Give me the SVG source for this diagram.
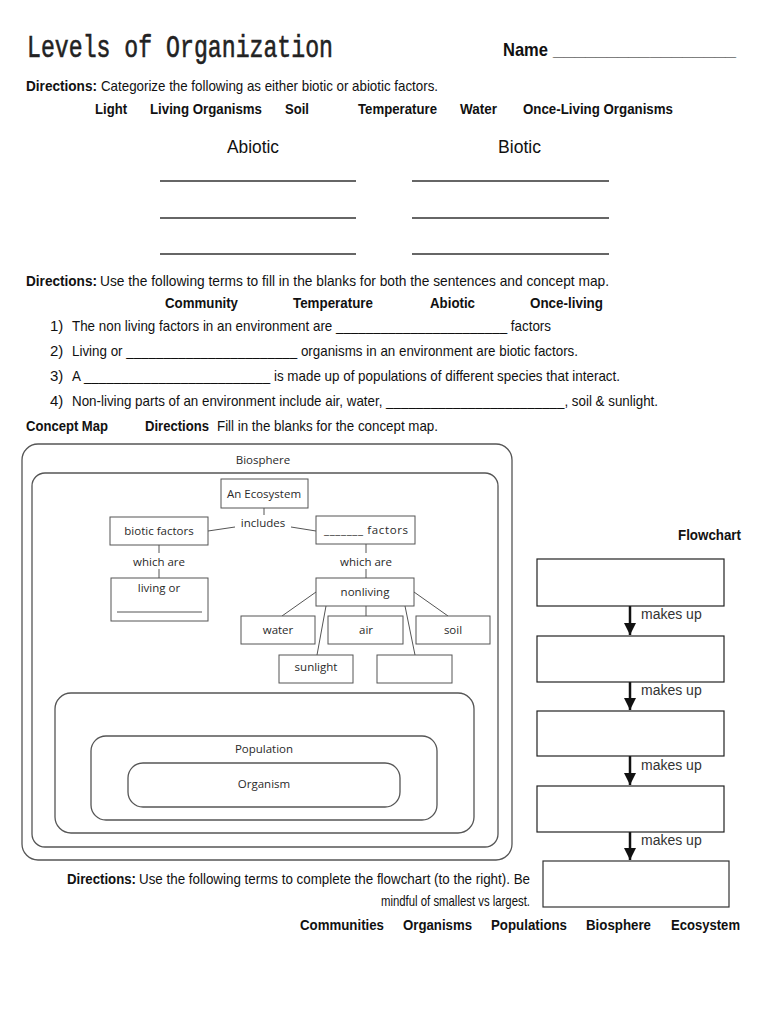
<svg xmlns="http://www.w3.org/2000/svg" width="768" height="1024" viewBox="0 0 768 1024">
<defs>
<style>
.t{font-family:"Liberation Sans",Arial,sans-serif;font-size:15px;fill:#111}
.b{font-weight:bold}
.ttl{font-family:"Liberation Mono","Courier New",monospace;font-size:32px;fill:#222;stroke:#222;stroke-width:0.6}
.cm{font-family:"Open Sans","Noto Sans",sans-serif;font-size:11.5px;fill:#2a2a2a;text-anchor:middle}
.box{fill:#fff;stroke:#555;stroke-width:1}
.rr{fill:none;stroke:#555;stroke-width:1.3}
.ln{stroke:#555;stroke-width:1;fill:none}
.fb{fill:#fff;stroke:#222;stroke-width:1.2}
.fa{stroke:#111;stroke-width:2.5}
.mk{font-family:"Liberation Sans",Arial,sans-serif;font-size:14px;fill:#333}
</style>
<marker id="ah" markerUnits="userSpaceOnUse" markerWidth="12" markerHeight="12" refX="12" refY="6" orient="auto">
<path d="M0,0 L12,6 L0,12 Z" fill="#111"/>
</marker>
</defs>
<rect width="768" height="1024" fill="#fff"/>

<!-- Header -->
<text class="ttl" x="27" y="57" textLength="306" lengthAdjust="spacingAndGlyphs">Levels of Organization</text>
<text class="t b" x="503" y="56" style="font-size:19px" textLength="45" lengthAdjust="spacingAndGlyphs">Name</text>
<text class="t b" x="553" y="56" style="font-size:19px" textLength="183" lengthAdjust="spacingAndGlyphs">_________________</text>

<!-- Section 1 -->
<text class="t b" x="26" y="91" textLength="71" lengthAdjust="spacingAndGlyphs">Directions:</text>
<text class="t" x="101" y="91" textLength="337" lengthAdjust="spacingAndGlyphs">Categorize the following as either biotic or abiotic factors.</text>
<g class="t b">
<text x="95" y="114" textLength="32" lengthAdjust="spacingAndGlyphs">Light</text>
<text x="150" y="114" textLength="112" lengthAdjust="spacingAndGlyphs">Living Organisms</text>
<text x="285" y="114" textLength="24" lengthAdjust="spacingAndGlyphs">Soil</text>
<text x="358" y="114" textLength="79" lengthAdjust="spacingAndGlyphs">Temperature</text>
<text x="460" y="114" textLength="37" lengthAdjust="spacingAndGlyphs">Water</text>
<text x="523" y="114" textLength="150" lengthAdjust="spacingAndGlyphs">Once-Living Organisms</text>
</g>
<text class="t" x="227" y="153" style="font-size:18px" textLength="52" lengthAdjust="spacingAndGlyphs">Abiotic</text>
<text class="t" x="498" y="153" style="font-size:18px" textLength="43" lengthAdjust="spacingAndGlyphs">Biotic</text>
<g stroke="#333" stroke-width="1.3">
<line x1="160" y1="181" x2="356" y2="181"/>
<line x1="160" y1="218" x2="356" y2="218"/>
<line x1="160" y1="254" x2="356" y2="254"/>
<line x1="412" y1="181" x2="609" y2="181"/>
<line x1="412" y1="218" x2="609" y2="218"/>
<line x1="412" y1="254" x2="609" y2="254"/>
</g>

<!-- Section 2 -->
<text class="t b" x="26" y="286" textLength="71" lengthAdjust="spacingAndGlyphs">Directions:</text>
<text class="t" x="100" y="286" textLength="509" lengthAdjust="spacingAndGlyphs">Use the following terms to fill in the blanks for both the sentences and concept map.</text>
<g class="t b">
<text x="165" y="308" textLength="73" lengthAdjust="spacingAndGlyphs">Community</text>
<text x="293" y="308" textLength="80" lengthAdjust="spacingAndGlyphs">Temperature</text>
<text x="430" y="308" textLength="45" lengthAdjust="spacingAndGlyphs">Abiotic</text>
<text x="530" y="308" textLength="73" lengthAdjust="spacingAndGlyphs">Once-living</text>
</g>
<g class="t">
<text x="50" y="331">1)</text>
<text x="72" y="331" textLength="479" lengthAdjust="spacingAndGlyphs">The non living factors in an environment are _______________________ factors</text>
<text x="50" y="356">2)</text>
<text x="72" y="356" textLength="506" lengthAdjust="spacingAndGlyphs">Living or _______________________ organisms in an environment are biotic factors.</text>
<text x="50" y="381">3)</text>
<text x="72" y="381" textLength="548" lengthAdjust="spacingAndGlyphs">A _________________________ is made up of populations of different species that interact.</text>
<text x="50" y="406">4)</text>
<text x="72" y="406" textLength="586" lengthAdjust="spacingAndGlyphs">Non-living parts of an environment include air, water, ________________________, soil &amp; sunlight.</text>
</g>
<text class="t b" x="26" y="431" textLength="82" lengthAdjust="spacingAndGlyphs">Concept Map</text>
<text class="t b" x="145" y="431" textLength="64" lengthAdjust="spacingAndGlyphs">Directions</text>
<text class="t" x="217" y="431" textLength="221" lengthAdjust="spacingAndGlyphs">Fill in the blanks for the concept map.</text>

<!-- Concept map containers -->
<g id="biosphere">
<rect class="rr" x="22" y="444" width="490" height="416" rx="16"/>
<text class="cm" x="263" y="464">Biosphere</text>
</g>
<g id="ecosystem-area">
<rect class="rr" x="32" y="473" width="466" height="374" rx="13"/>
</g>
<g id="community">
<rect class="rr" x="55" y="693" width="419" height="140" rx="16"/>
</g>
<g id="population">
<rect class="rr" x="91" y="736" width="346" height="84" rx="15"/>
<text class="cm" x="264" y="753">Population</text>
</g>
<g id="organism">
<rect class="rr" x="128" y="763" width="272" height="44" rx="15"/>
<text class="cm" x="264" y="788">Organism</text>
</g>

<!-- Concept map connectors -->
<g id="cm-connectors" class="ln">
<line x1="264" y1="508" x2="264" y2="515"/>
<line x1="208" y1="531" x2="235" y2="527"/>
<line x1="291" y1="527" x2="316" y2="531"/>
<line x1="159" y1="545" x2="159" y2="553"/>
<line x1="159" y1="569" x2="159" y2="578"/>
<line x1="366" y1="544" x2="366" y2="553"/>
<line x1="366" y1="569" x2="366" y2="578"/>
<line x1="316" y1="592" x2="282" y2="616"/>
<line x1="414" y1="592" x2="448" y2="616"/>
<line x1="366" y1="606" x2="366" y2="616"/>
<line x1="326" y1="606" x2="317" y2="655"/>
<line x1="405" y1="606" x2="415" y2="655"/>
</g>

<g id="ecosystem">
<rect class="box" x="221" y="479" width="87" height="29"/>
<text class="cm" x="264" y="498">An Ecosystem</text>
</g>
<g id="includes"><text class="cm" x="263" y="527">includes</text></g>
<g id="biotic-factors">
<rect class="box" x="110" y="517" width="98" height="28"/>
<text class="cm" x="159" y="535">biotic factors</text>
</g>
<g id="abiotic-factors">
<rect class="box" x="316" y="516" width="99" height="28"/>
<text class="cm" x="366" y="534" textLength="84" lengthAdjust="spacing">_______ factors</text>
</g>
<g id="which-are-1"><text class="cm" x="159" y="566">which are</text></g>
<g id="which-are-2"><text class="cm" x="366" y="566">which are</text></g>
<g id="living-or">
<rect class="box" x="111" y="578" width="97" height="43"/>
<text class="cm" x="159" y="592">living or</text>
<line class="ln" x1="117" y1="612" x2="202" y2="612"/>
</g>
<g id="nonliving">
<rect class="box" x="316" y="578" width="98" height="28"/>
<text class="cm" x="365" y="596">nonliving</text>
</g>
<g id="water">
<rect class="box" x="241" y="616" width="74" height="28"/>
<text class="cm" x="278" y="634">water</text>
</g>
<g id="air">
<rect class="box" x="328" y="616" width="75" height="28"/>
<text class="cm" x="366" y="634">air</text>
</g>
<g id="soil">
<rect class="box" x="416" y="616" width="74" height="28"/>
<text class="cm" x="453" y="634">soil</text>
</g>
<g id="sunlight">
<rect class="box" x="279" y="655" width="74" height="28"/>
<text class="cm" x="316" y="671">sunlight</text>
</g>
<g id="blank-box">
<rect class="box" x="377" y="655" width="75" height="28"/>
</g>

<!-- Flowchart -->
<text class="t b" x="678" y="540" style="font-size:14px" textLength="63" lengthAdjust="spacingAndGlyphs">Flowchart</text>
<g id="flow-connectors">
<line class="fa" x1="630" y1="606" x2="630" y2="635" marker-end="url(#ah)"/>
<line class="fa" x1="630" y1="682" x2="630" y2="710" marker-end="url(#ah)"/>
<line class="fa" x1="630" y1="756" x2="630" y2="785" marker-end="url(#ah)"/>
<line class="fa" x1="630" y1="832" x2="630" y2="860" marker-end="url(#ah)"/>
<text class="mk" x="641" y="619">makes up</text>
<text class="mk" x="641" y="695">makes up</text>
<text class="mk" x="641" y="770">makes up</text>
<text class="mk" x="641" y="845">makes up</text>
</g>
<g id="flow1"><rect class="fb" x="537" y="559" width="187" height="47"/></g>
<g id="flow2"><rect class="fb" x="537" y="636" width="187" height="46"/></g>
<g id="flow3"><rect class="fb" x="537" y="711" width="187" height="45"/></g>
<g id="flow4"><rect class="fb" x="537" y="786" width="187" height="46"/></g>
<g id="flow5"><rect class="fb" x="543" y="861" width="186" height="46" style="stroke:#333"/></g>

<!-- Bottom directions -->
<text class="t b" x="67" y="884" textLength="69" lengthAdjust="spacingAndGlyphs">Directions:</text>
<text class="t" x="139" y="884" textLength="391" lengthAdjust="spacingAndGlyphs">Use the following terms to complete the flowchart (to the right). Be</text>
<text class="t" x="381" y="906" textLength="149" lengthAdjust="spacingAndGlyphs">mindful of smallest vs largest.</text>
<g class="t b">
<text x="300" y="930" textLength="84" lengthAdjust="spacingAndGlyphs">Communities</text>
<text x="403" y="930" textLength="69" lengthAdjust="spacingAndGlyphs">Organisms</text>
<text x="491" y="930" textLength="76" lengthAdjust="spacingAndGlyphs">Populations</text>
<text x="586" y="930" textLength="65" lengthAdjust="spacingAndGlyphs">Biosphere</text>
<text x="671" y="930" textLength="69" lengthAdjust="spacingAndGlyphs">Ecosystem</text>
</g>
</svg>
